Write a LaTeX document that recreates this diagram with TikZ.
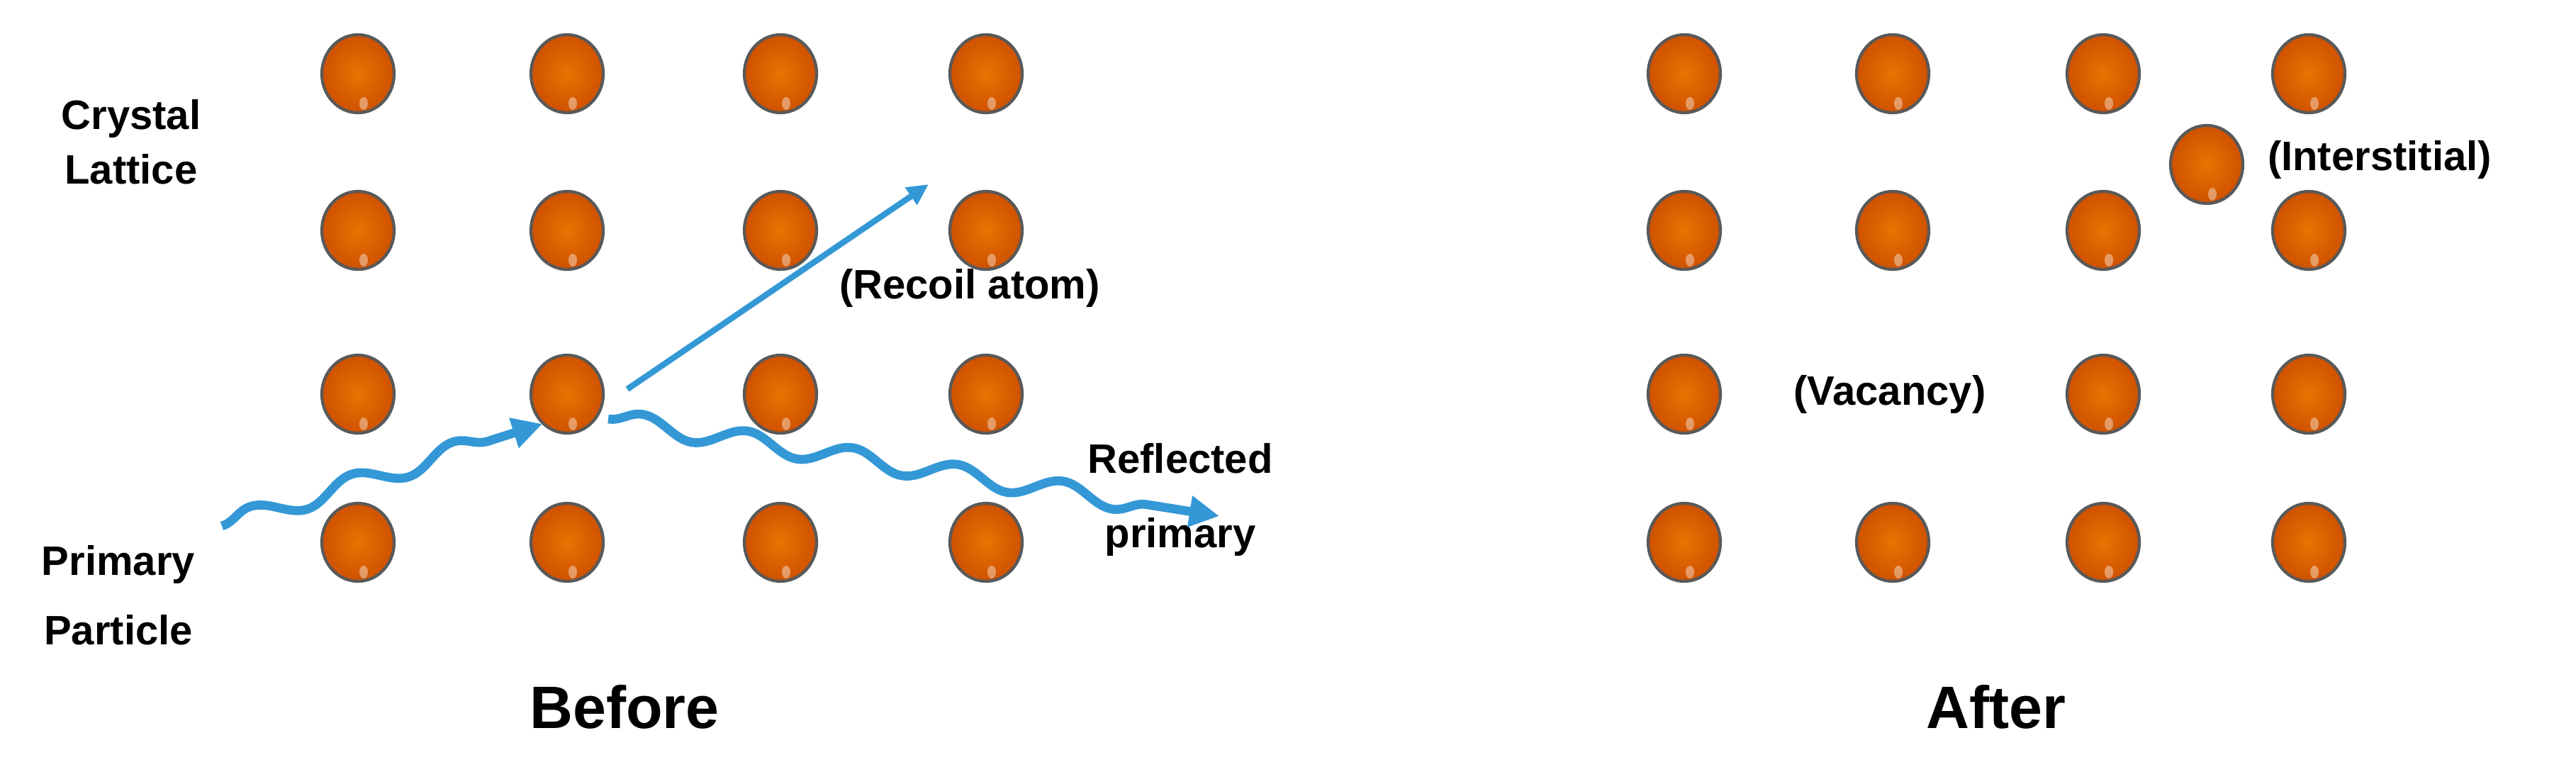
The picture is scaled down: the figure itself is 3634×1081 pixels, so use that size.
\documentclass[tikz,border=0pt]{standalone}
\usepackage{fontspec}
\setmainfont{Liberation Sans}
\usetikzlibrary{decorations.pathmorphing,arrows.meta,shapes.geometric}
\definecolor{ballc}{RGB}{230,90,0}
\definecolor{arr}{RGB}{52,152,214}
\tikzset{
  atom/.style={ellipse,minimum width=1.02cm,minimum height=1.1cm,inner sep=0pt,draw=gray!70!black,line width=1.2pt,
    shade,inner color=ballc!85!yellow,outer color=ballc!90!black},
  lbl/.style={font=\fontsize{16.5}{19}\selectfont\bfseries,align=center,inner sep=0pt},
  big/.style={font=\fontsize{24}{28}\selectfont\bfseries,inner sep=0pt},
  ray/.style={draw=arr,line width=3.6pt,-{Triangle[length=0.42cm,width=0.42cm]}},
  wave/.style={ray,decorate,decoration={snake,segment length=1.5cm,amplitude=0.14cm,post length=0.35cm}}
}
\begin{document}
\begin{tikzpicture}[x=0.01cm,y=-0.01cm]
\useasboundingbox (0,0) rectangle (3634,1081);
\foreach \c/\x in {1/505,2/800,3/1101,4/1391}{
  \foreach \r/\y in {1/104,2/325,3/556,4/765}{
    \node[atom] (L\c\r) at (\x,\y) {};
    \fill[white,opacity=0.4] (\x+8,\y+42) ellipse (0.06cm and 0.09cm);
  }}
\foreach \c/\x in {1/2376,2/2670,3/2967,4/3257}{
  \foreach \r/\y in {1/104,2/325,3/556,4/765}{
    \ifnum\c\r=23\else
    \node[atom] (R\c\r) at (\x,\y) {};
    \fill[white,opacity=0.4] (\x+8,\y+42) ellipse (0.06cm and 0.09cm);
    \fi
  }}
\node[atom] (int) at (3113,232) {};
\fill[white,opacity=0.4] (3121,274) ellipse (0.06cm and 0.09cm);

\node[lbl,font=\fontsize{16.5}{22}\selectfont\bfseries] (cl) at (185,200) {Crystal\\Lattice};
\node[lbl] (rec) at (1368,406) {(Recoil atom)};
\node[lbl,font=\fontsize{16.5}{30}\selectfont\bfseries] (refl) at (1665,705) {Reflected\\primary};
\node[lbl,font=\fontsize{16.5}{28}\selectfont\bfseries] (pp) at (167,840) {Primary\\Particle};
\node[big] (bef) at (881,997) {Before};
\node[big] (aft) at (2816,997) {After};
\node[lbl] (vac) at (2666,556) {(Vacancy)};
\node[lbl] (intl) at (3357,225) {(Interstitial)};

\coordinate (in0) at (313,742);
\coordinate (in1) at (765,598);
\coordinate (re0) at (858,591);
\coordinate (re1) at (1720,728);
\coordinate (rc0) at (885,549);
\coordinate (rc1) at (1310,260);
\draw[wave] (in0) -- (in1);
\draw[wave] (re0) -- (re1);
\draw[ray,line width=2.4pt,-{Triangle[length=0.3cm,width=0.28cm]}] (rc0) -- (rc1);
\end{tikzpicture}
\end{document}
